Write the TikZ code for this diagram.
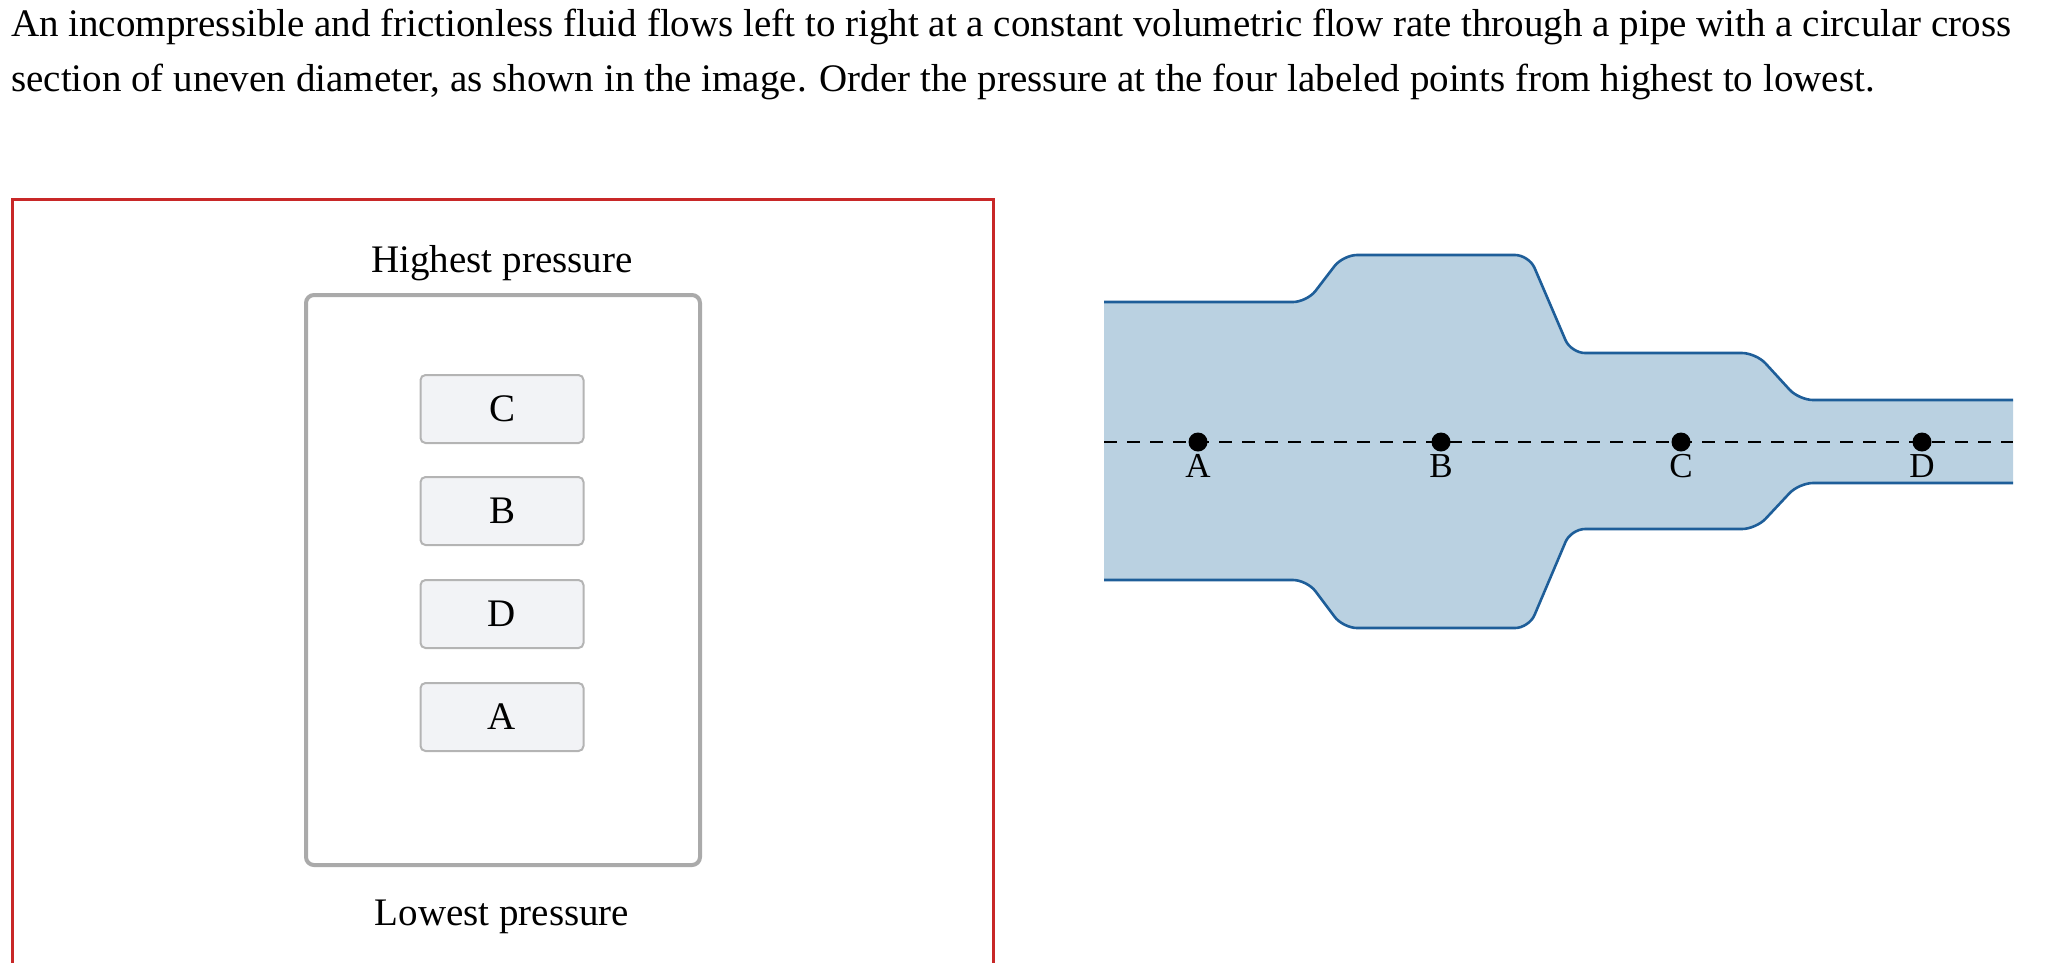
\documentclass[tikz,border=0pt]{standalone}
\usepackage{fontspec}
\setmainfont{Liberation Serif}
\definecolor{redb}{RGB}{200,40,40}
\definecolor{grayb}{RGB}{170,170,170}
\definecolor{itemf}{RGB}{242,243,246}
\definecolor{itemb}{RGB}{180,180,180}
\definecolor{pipef}{RGB}{186,209,225}
\definecolor{pipel}{RGB}{30,94,153}
\begin{document}
\begin{tikzpicture}[x=1pt,y=-1pt,
  txt/.style={inner sep=0pt,font=\fontsize{39}{46}\selectfont},
  item/.style={draw=itemb,fill=itemf,line width=2pt,rounded corners=5pt,minimum width=163pt,minimum height=68pt,font=\fontsize{39}{45}\selectfont,inner sep=0pt},
  pt/.style={circle,fill=black,minimum size=19pt,inner sep=0pt},
  lbl/.style={inner sep=0pt,font=\fontsize{35}{40}\selectfont}]
\useasboundingbox (0,0) rectangle (2058,962);
\node[txt,anchor=base west] (t1) at (11,36) {An incompressible and frictionless fluid flows left to right at a constant volumetric flow rate through a pipe with a circular cross};
\node[txt,anchor=base west] (t2) at (11,91) {section of uneven diameter, as shown in the image. Order the pressure at the four labeled points from highest to lowest.};
\draw[redb,line width=3pt] (12,970) -- (12,199) -- (993,199) -- (993,970);
\node[txt] (hp) at (502,263) {Highest pressure};
\node[txt] (lp) at (502,917) {Lowest pressure};
\draw[grayb,line width=4pt,rounded corners=8pt] (306,295) rectangle (700,865);
\node[item] (iC) at (502,409) {C};
\node[item] (iB) at (502,511) {B};
\node[item] (iD) at (502,614) {D};
\node[item] (iA) at (502,717) {A};
% pipe
\begin{scope}[xshift=-5pt]
\begin{scope}
\clip (1109,200) rectangle (2018,700);
\fill[pipef,rounded corners=14pt] (1080,302) -- (1312,302) -- (1348,255) -- (1534,255) -- (1576,353) -- (1761,353) -- (1804,400) -- (2050,400) -- (2050,483) -- (1804,483) -- (1761,529) -- (1576,529) -- (1534,628) -- (1348,628) -- (1312,580) -- (1080,580) -- cycle;
\end{scope}
\draw[pipel,line width=2.6pt,rounded corners=14pt] (1109,302) -- (1312,302) -- (1348,255) -- (1534,255) -- (1576,353) -- (1761,353) -- (1804,400) -- (2018,400);
\draw[pipel,line width=2.6pt,rounded corners=14pt] (1109,580) -- (1312,580) -- (1348,628) -- (1534,628) -- (1576,529) -- (1761,529) -- (1804,483) -- (2018,483);
\coordinate (cl) at (1109,442);
\coordinate (cr) at (2018,442);
\draw[black,line width=2.6pt,dash pattern=on 13pt off 10pt] (cl) -- (cr);
\node[pt] (pA) at (1203,442) {};
\node[pt] (pB) at (1446,442) {};
\node[pt] (pC) at (1686,442) {};
\node[pt] (pD) at (1927,442) {};
\node[lbl,anchor=north] at (1203,454) {A};
\node[lbl,anchor=north] at (1446,454) {B};
\node[lbl,anchor=north] at (1686,454) {C};
\node[lbl,anchor=north] at (1927,454) {D};
\end{scope}
\end{tikzpicture}
\end{document}
